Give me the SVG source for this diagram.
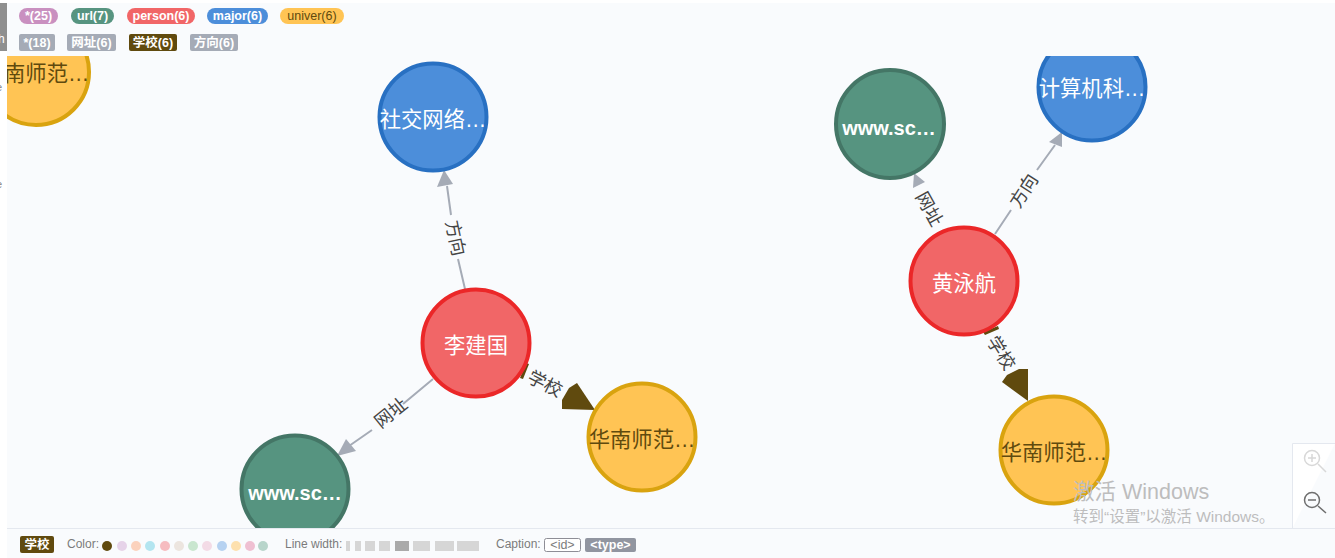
<svg xmlns="http://www.w3.org/2000/svg" width="1335" height="558" viewBox="0 0 1335 558">
<style>
text{font-family:"Liberation Sans","Noto Sans CJK SC",sans-serif}
.n{stroke-width:4}
.nt{font-size:21.3px;text-anchor:middle;dominant-baseline:central}
.wt{font-size:20px;font-weight:700}
.w{fill:#fff}
.d{fill:#604a0e}
.person{fill:#f16667;stroke:#eb2728}
.major{fill:#4c8eda;stroke:#2870c2}
.url{fill:#569480;stroke:#447666}
.univ{fill:#ffc454;stroke:#d9a30f}
.cg{stroke:#a5abb6;stroke-width:2;fill:none}
.ah{fill:#a5abb6}
.bh{fill:#604a0e}
.el{font-size:18px;fill:#444;text-anchor:middle;dominant-baseline:central}
.tag{font-size:12.5px;font-weight:700;text-anchor:middle;dominant-baseline:central;fill:#fff}
.foot{font-size:12px;fill:#7b7b7b;dominant-baseline:central}
.lw{fill:#d6d6d6}
</style>
<defs>
<clipPath id="canvas"><rect x="7" y="56" width="1328" height="472"/></clipPath>
</defs>
<rect width="1335" height="558" fill="#fff"/>
<rect x="7" y="3" width="1328" height="555" fill="#f9fbfd"/>
<rect x="0" y="3" width="7" height="48" fill="#8f8f8f"/>
<text x="-2" y="39" font-size="12" fill="#fff" dominant-baseline="central">h</text>
<text x="-4" y="87" font-size="11" fill="#888" dominant-baseline="central">e</text>
<text x="-4" y="184" font-size="11" fill="#888" dominant-baseline="central">e</text>

<g id="connectors">
<path class="cg" d="M465 289L458 259M451 215L447 186"/>
<path class="ah" d="M444 170L453 184L437 187Z"/>
<path class="cg" d="M433 379L403 404M372 430L349 446"/>
<path class="ah" d="M337 456L346 439L356 451Z"/>
<path class="cg" d="M995 234L1011 210M1037 170L1055 145"/>
<path class="ah" d="M1062 132L1062 147L1049 142Z"/>
<path class="ah" d="M914 173L925 182L913 188Z"/>
<path class="bh" d="M526 363L529 364L523 379L520 378Z"/>
<path class="bh" d="M577 383L595 410L562 409L562 400L569 388Z"/>
<path class="bh" d="M983 332L998 326L999 329L985 335Z"/>
<path class="bh" d="M1019 369L1028 369L1028 401L1002 382L1007 375Z"/>
<text class="el" transform="translate(455 238) rotate(78)">方向</text>
<text class="el" transform="translate(391 413) rotate(-39)">网址</text>
<text class="el" transform="translate(545 384) rotate(27)">学校</text>
<text class="el" transform="translate(929 209) rotate(61)">网址</text>
<text class="el" transform="translate(1024 191) rotate(-57)">方向</text>
<text class="el" transform="translate(1001 353) rotate(58)">学校</text>
</g>

<g clip-path="url(#canvas)">
<g id="node-univ-a"><circle class="n univ" cx="36" cy="72" r="53"/><text class="nt d" x="36" y="74">华南师范…</text></g>
<g id="node-major-a"><circle class="n major" cx="433" cy="117" r="53.500"/><text class="nt w" x="433" y="120">社交网络…</text></g>
<g id="node-person-a"><circle class="n person" cx="476" cy="343" r="53.500"/><text class="nt w" x="476" y="346">李建国</text></g>
<g id="node-univ-b"><circle class="n univ" cx="642" cy="437" r="53.500"/><text class="nt d" x="642" y="440">华南师范…</text></g>
<g id="node-url-a"><circle class="n url" cx="295" cy="489" r="53.500"/><text class="nt w wt" x="295" y="493">www.sc…</text></g>
<g id="node-url-b"><circle class="n url" cx="890" cy="124" r="54"/><text class="nt w wt" x="889" y="128">www.sc…</text></g>
<g id="node-major-b"><circle class="n major" cx="1092" cy="87" r="53.500"/><text class="nt w" x="1092" y="89">计算机科…</text></g>
<g id="node-person-b"><circle class="n person" cx="964" cy="281" r="53.500"/><text class="nt w" x="964" y="284">黄泳航</text></g>
<g id="node-univ-c"><circle class="n univ" cx="1054" cy="450" r="53.500"/><text class="nt d" x="1054" y="453">华南师范…</text></g>
</g>

<g id="legend-labels">
<rect x="19" y="8" width="39" height="16" rx="8" fill="#c990c0"/><text class="tag" x="38.500" y="16">*(25)</text>
<rect x="71" y="8" width="43" height="16" rx="8" fill="#569480"/><text class="tag" x="92.500" y="16">url(7)</text>
<rect x="127" y="8" width="68" height="16" rx="8" fill="#f16667"/><text class="tag" x="161" y="16">person(6)</text>
<rect x="207" y="8" width="61" height="16" rx="8" fill="#4c8eda"/><text class="tag" x="237.500" y="16">major(6)</text>
<rect x="280" y="8" width="64" height="16" rx="8" fill="#ffc454"/><text class="tag" x="312" y="16" style="fill:#604a0e;font-weight:400">univer(6)</text>
</g>
<g id="legend-types">
<rect x="19" y="34" width="36" height="17" rx="2" fill="#a5abb6"/><text class="tag" x="37" y="42.500">*(18)</text>
<rect x="67" y="34" width="49" height="17" rx="2" fill="#a5abb6"/><text class="tag" x="91.500" y="42.500">网址(6)</text>
<rect x="129" y="34" width="48" height="17" rx="2" fill="#604a0e"/><text class="tag" x="153" y="42.500">学校(6)</text>
<rect x="190" y="34" width="48" height="17" rx="2" fill="#a5abb6"/><text class="tag" x="214" y="42.500">方向(6)</text>
</g>

<g id="footer">
<path d="M7 528.500H1335" stroke="#e4e8ef" fill="none"/>
<rect x="20" y="536" width="34" height="17" rx="2" fill="#604a0e"/><text class="tag" x="37" y="544.500">学校</text>
<text class="foot" x="67" y="544">Color:</text>
<circle cx="107" cy="546" r="5" fill="#604a0e"/>
<circle cx="122" cy="546" r="5" fill="#e6d3e9"/>
<circle cx="136" cy="546" r="5" fill="#fbd2bd"/>
<circle cx="150" cy="546" r="5" fill="#b3e5f0"/>
<circle cx="165" cy="546" r="5" fill="#f6bcc0"/>
<circle cx="179" cy="546" r="5" fill="#ece5df"/>
<circle cx="193" cy="546" r="5" fill="#c9e6cf"/>
<circle cx="207" cy="546" r="5" fill="#f3dbe6"/>
<circle cx="222" cy="546" r="5" fill="#b6d2f1"/>
<circle cx="236" cy="546" r="5" fill="#fde0ae"/>
<circle cx="250" cy="546" r="5" fill="#efc0d2"/>
<circle cx="263" cy="546" r="5" fill="#b8d5cb"/>
<text class="foot" x="285" y="544">Line width:</text>
<rect class="lw" x="346" y="541" width="4" height="10"/>
<rect class="lw" x="355" y="541" width="6" height="10"/>
<rect class="lw" x="365" y="541" width="10" height="10"/>
<rect class="lw" x="379" y="541" width="11" height="10"/>
<rect x="395" y="541" width="14" height="10" fill="#aaa"/>
<rect class="lw" x="413" y="541" width="17" height="10"/>
<rect class="lw" x="435" y="541" width="19" height="10"/>
<rect class="lw" x="457" y="541" width="22" height="10"/>
<text class="foot" x="496" y="544">Caption:</text>
<rect x="544.500" y="538.500" width="36" height="13" rx="2" fill="#fff" stroke="#8e8e96"/><text class="tag" x="562.500" y="545" style="fill:#7b7b7b;font-weight:400">&lt;id&gt;</text>
<rect x="585" y="538" width="51" height="14" rx="2" fill="#9195a0"/><text class="tag" x="610.500" y="545">&lt;type&gt;</text>
</g>

<g id="zoom">
<path d="M1292.500 528V443.500H1335" fill="#fff" stroke="#e4e8ef"/>
<g fill="none" stroke-width="1.500" stroke="#d8d8d8"><circle cx="1312" cy="458" r="7.500"/><path d="M1318 464L1326 472M1308 458H1316M1312 454V462"/></g>
<g fill="none" stroke-width="1.500" stroke="#6f6f6f"><circle cx="1312" cy="500" r="7.500"/><path d="M1318 506L1326 513M1308 500H1316"/></g>
</g>

<g id="watermark" fill="#bdbdbd">
<text x="1073" y="492" font-size="21.500" dominant-baseline="central">激活 Windows</text>
<text x="1073" y="516" font-size="15.500" dominant-baseline="central">转到“设置”以激活 Windows。</text>
</g>
</svg>
